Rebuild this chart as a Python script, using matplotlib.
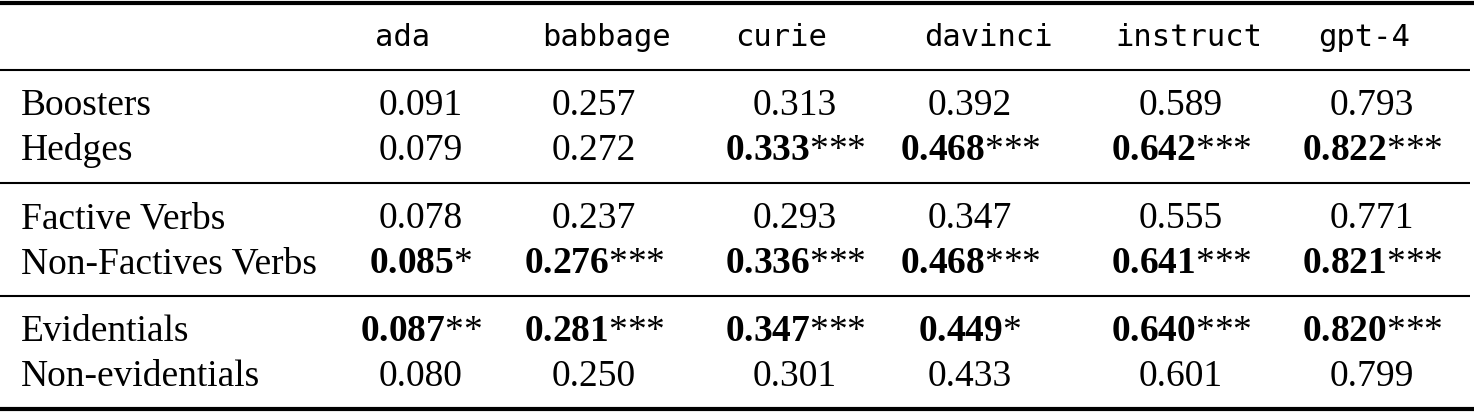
import matplotlib
matplotlib.use("Agg")
import matplotlib.pyplot as plt

# ============================================================
# Table data
# ============================================================
models = ["ada", "babbage", "curie", "davinci", "instruct", "gpt-4"]

row_labels = [
    ["Boosters", "Hedges"],
    ["Factive Verbs", "Non-Factives Verbs"],
    ["Evidentials", "Non-evidentials"],
]

boosters = [0.091, 0.257, 0.313, 0.392, 0.589, 0.793]
hedges = [0.079, 0.272, 0.333, 0.468, 0.642, 0.822]
hedges_stars = [0, 0, 3, 3, 3, 3]

factive = [0.078, 0.237, 0.293, 0.347, 0.555, 0.771]
non_factive = [0.085, 0.276, 0.336, 0.468, 0.641, 0.821]
non_factive_stars = [1, 3, 3, 3, 3, 3]

evidentials = [0.087, 0.281, 0.347, 0.449, 0.640, 0.820]
evidentials_stars = [2, 3, 3, 1, 3, 3]
non_evidentials = [0.080, 0.250, 0.301, 0.433, 0.601, 0.799]

no_stars = [0] * len(models)
rows = [
    [(boosters, no_stars), (hedges, hedges_stars)],
    [(factive, no_stars), (non_factive, non_factive_stars)],
    [(evidentials, evidentials_stars), (non_evidentials, no_stars)],
]

# ============================================================
# Layout (pixel coordinates, y down)
# ============================================================
W, H = 1474, 412
col_x = [421, 594, 795, 970, 1181, 1372]
head_x = [403, 606, 781, 988, 1189, 1364]
label_x = 21
header_base = 46
rule_y = [70, 183, 296]
row_gap = 45

plt.rcParams["mathtext.fontset"] = "custom"
plt.rcParams["mathtext.rm"] = "Liberation Serif"
plt.rcParams["mathtext.bf"] = "Liberation Serif:bold"

fig = plt.figure(figsize=(W / 100, H / 100), dpi=100)
ax = fig.add_axes([0, 0, 1, 1])
ax.set_xlim(0, W)
ax.set_ylim(H, 0)
ax.axis("off")

serif = "Liberation Serif"
size = 27

# rules
ax.plot([0, W], [3, 3], color="black", lw=3.0, solid_capstyle="butt")
for y in rule_y:
    ax.plot([0, W - 4], [y, y], color="black", lw=1.5, solid_capstyle="butt")
ax.plot([0, W], [409, 409], color="black", lw=3.0, solid_capstyle="butt")

# header
for x, m in zip(head_x, models):
    ax.text(x, header_base, m, family="DejaVu Sans Mono", fontsize=22,
            ha="center", va="baseline")

# body
for g, (labels, series) in enumerate(zip(row_labels, rows)):
    for r, (lab, (vals, stars)) in enumerate(zip(labels, series)):
        yb = rule_y[g] + row_gap * (r + 1)
        ax.text(label_x, yb, lab, family=serif, fontsize=size,
                ha="left", va="baseline")
        for x, v, s in zip(col_x, vals, stars):
            if s > 0:
                txt = r"$\mathbf{%.3f}$" % v + "*" * s
            else:
                txt = "%.3f" % v
            ax.text(x, yb, txt, family=serif, fontsize=size,
                    ha="center", va="baseline")

fig.savefig("out.png", dpi=100)
